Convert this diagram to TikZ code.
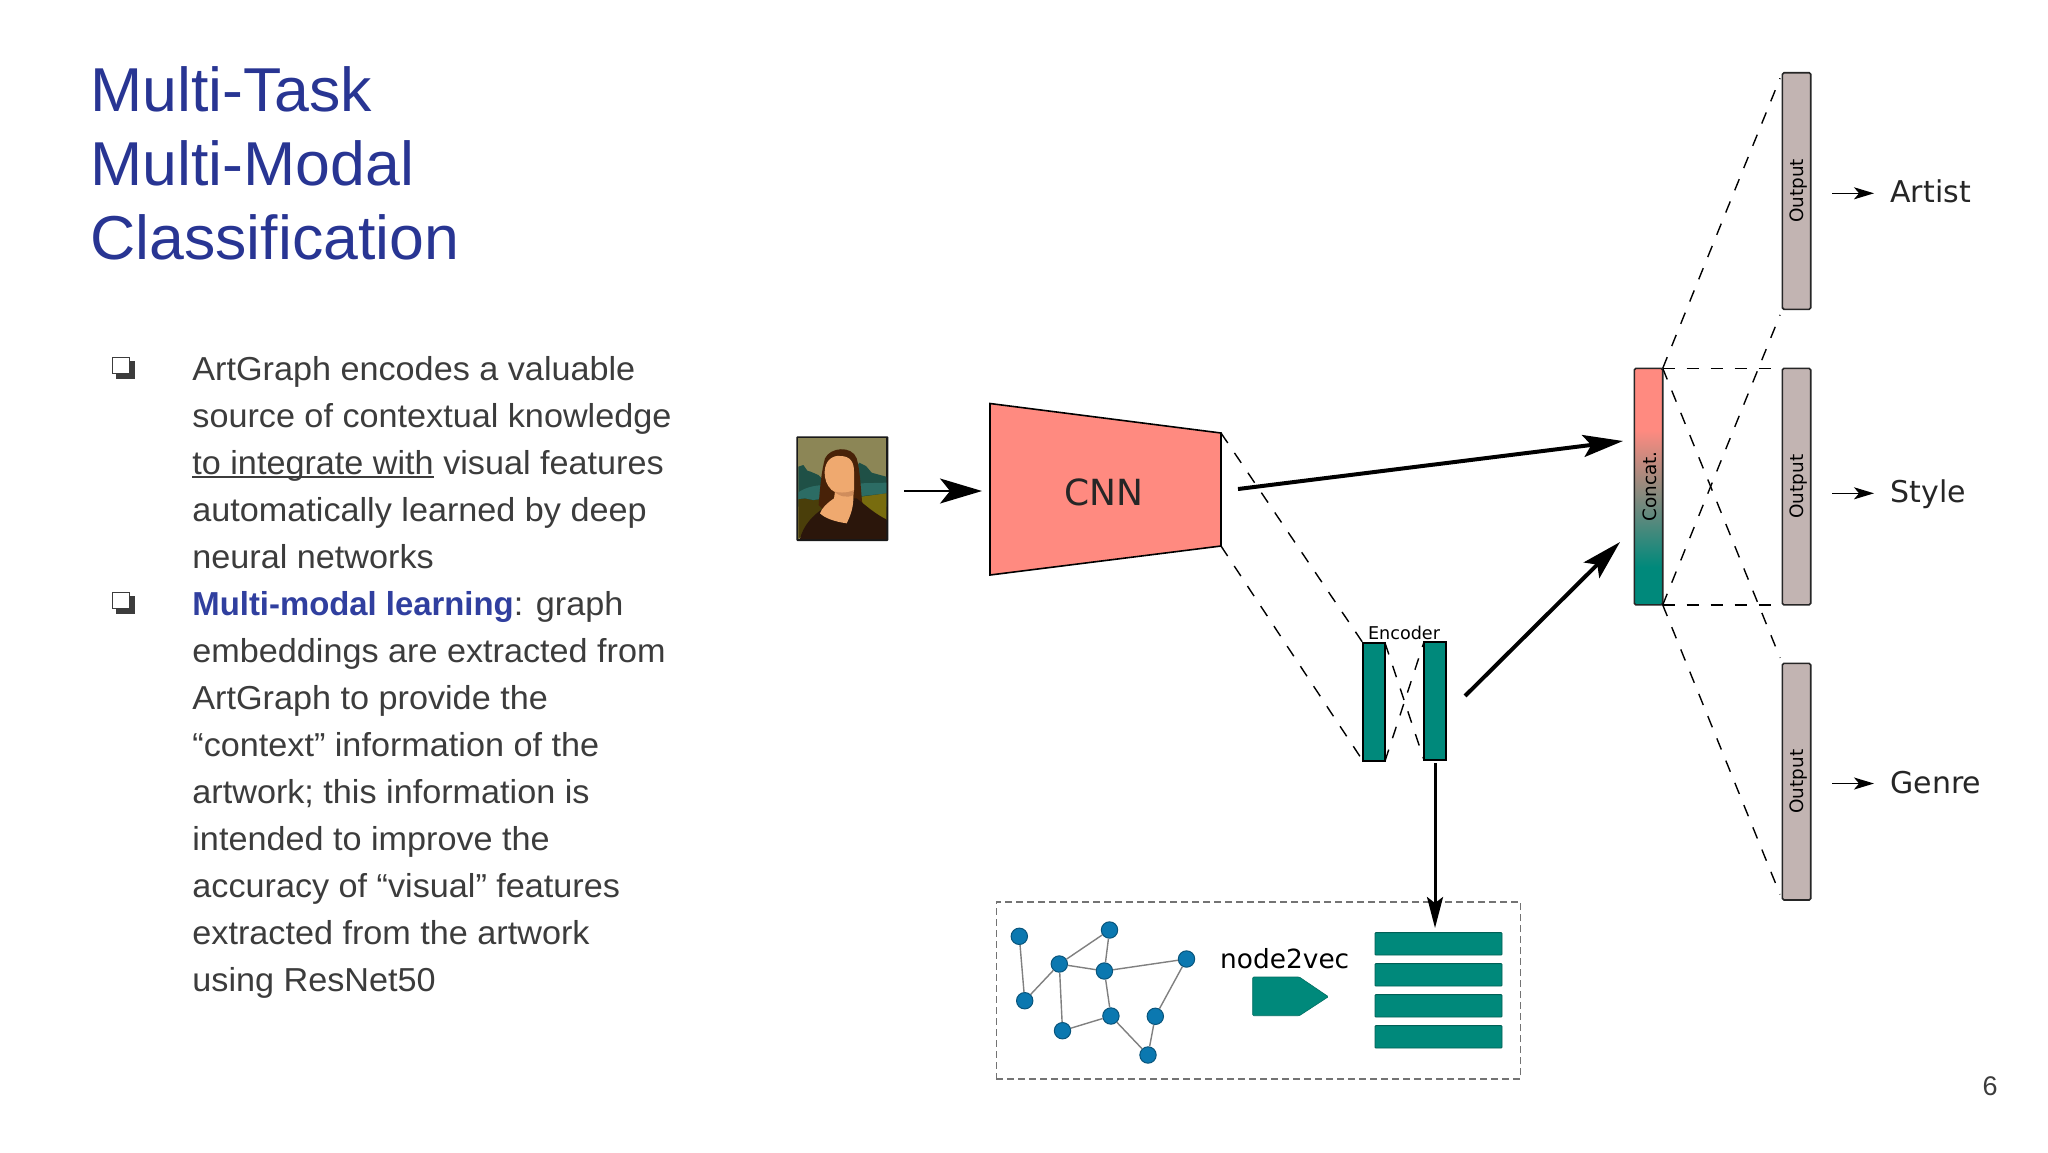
\documentclass[tikz,border=0pt]{standalone}
\usepackage{fontspec}
\usetikzlibrary{arrows.meta}
\setmainfont{Liberation Sans}
\newfontfamily\djv{DejaVu Sans}
\newfontfamily\titlef[FakeStretch=1.01]{Liberation Sans}
\newfontfamily\bodyf[FakeStretch=1.03]{Liberation Sans}
\newfontfamily\boldf[FakeStretch=0.99]{Liberation Sans}
\definecolor{titleblue}{HTML}{283593}
\definecolor{boldblue}{HTML}{303F9F}
\definecolor{bodygrey}{HTML}{3C3C3C}
\definecolor{salmon}{HTML}{FF8A80}
\definecolor{tealbar}{HTML}{00897B}
\definecolor{outgrey}{HTML}{C2B4B2}
\definecolor{dotblue}{HTML}{0B78B0}
\pgfdeclareverticalshading{concatshade}{100bp}{color(0bp)=(tealbar); color(33bp)=(tealbar); color(62bp)=(salmon); color(100bp)=(salmon)}
\newcommand\ulx[1]{\setbox0=\hbox{#1}\rlap{\rule[-2pt]{\wd0}{0.8pt}}\box0\relax}
\tikzset{
  titletext/.style={anchor=base west,inner sep=0pt,align=left,text=titleblue,font=\titlef\fontsize{31}{36.85}\selectfont},
  bodytext/.style={anchor=base west,inner sep=0pt,align=left,text=bodygrey,font=\bodyf\fontsize{16.6}{23.5}\selectfont},
  bulletshadow/.style={fill=bodygrey,minimum width=9.5pt,minimum height=9pt,inner sep=0pt,outer sep=0pt},
  bulletbox/.style={draw=bodygrey,line width=.6pt,fill=white,minimum width=8.4pt,minimum height=8pt,inner sep=0pt,outer sep=0pt},
  enc/.style={draw=black,line width=.8pt,fill=tealbar,minimum width=11pt,minimum height=59pt,inner sep=0pt,outer sep=0pt},
  outbar/.style={draw=black!85,line width=.8pt,fill=outgrey,rounded corners=.8pt,minimum width=14.2pt,minimum height=118.3pt,inner sep=0pt,outer sep=0pt,font=\djv\fontsize{9.2}{9}\selectfont},
  concatbar/.style={draw=black!85,line width=.8pt,shading=concatshade,rounded corners=.8pt,minimum width=14.2pt,minimum height=118.3pt,inner sep=0pt,outer sep=0pt,font=\djv\fontsize{9.2}{9}\selectfont},
  dashlink/.style={line width=.7pt,dash pattern=on 6pt off 6pt,black},
  smallarrow/.style={line width=.8pt,-{Stealth[length=10pt,width=6pt,inset=2.5pt]}},
  bigarrow/.style={line width=1pt,-{Stealth[length=21pt,width=12.5pt,inset=5pt]}},
  thickarrow/.style={line width=2pt,-{Stealth[length=20pt,width=11pt,inset=4pt]}},
  downarrow/.style={line width=1.5pt,-{Stealth[length=15.5pt,width=8pt,inset=3pt]}},
  dot/.style={circle,draw=dotblue!70!black,line width=.5pt,fill=dotblue,minimum size=8.2pt,inner sep=0pt},
  edge/.style={line width=.7pt,draw=black!50},
  embar/.style={draw=tealbar!70!black,line width=.4pt,fill=tealbar,rounded corners=.4pt,minimum width=63.5pt,minimum height=11.2pt,inner sep=0pt,outer sep=0pt},
  classlabel/.style={anchor=base west,inner sep=0pt,text=black!85,font=\djv\fontsize{15}{15}\selectfont},
}
\begin{document}
\begin{tikzpicture}[x=.5pt,y=-.5pt]
\useasboundingbox (0,0) rectangle (2048,1152);
\fill[white] (0,0) rectangle (2048,1152);

% title and text
\node[titletext] (title) at (90,259.3) {Multi-Task\\Multi-Modal\\Classification};
\node[bulletshadow] (bs1) at (125.5,369.5) {};
\node[bulletbox] (b1) at (121,365.5) {};
\node[bulletshadow] (bs2) at (125.5,604.5) {};
\node[bulletbox] (b2) at (121,600.5) {};
\node[bodytext] (para1) at (192,568) {ArtGraph encodes a valuable\\source of contextual knowledge\\\ulx{to integrate with} visual features\\automatically learned by deep\\neural networks};
\node[bodytext] (para2) at (192,991) {\textcolor{boldblue}{\boldf\bfseries Multi-modal learning}: graph\\embeddings are extracted from\\ArtGraph to provide the\\“context” information of the\\artwork; this information is\\intended to improve the\\accuracy of “visual” features\\extracted from the artwork\\using ResNet50};
\node[anchor=base,inner sep=0pt,text=bodygrey,font=\fontsize{13.5}{14}\selectfont] (page) at (1990,1095.5) {6};

% painting
\node[inner sep=0pt,outer sep=0pt,minimum width=45.5pt,minimum height=52pt] (img) at (842.5,489) {};
\begin{scope}[xshift=395pt,yshift=-215pt,x=.16667pt,y=-.16667pt]
  \fill[rounded corners=.5pt,black!90] (19,19) rectangle (295,333);
  \fill[fill={rgb,255:red,140;green,134;blue,86}] (25,25) rectangle (289,327);
  \fill[fill={rgb,255:red,31;green,80;blue,70}] (25,110) -- (40,105) -- (52,122) -- (62,125) -- (85,135) -- (100,150) -- (200,110) -- (208,98) -- (228,108) -- (245,128) -- (270,135) -- (289,140) -- (289,230) -- (25,230) -- cycle;
  \fill[fill={rgb,255:red,44;green,108;blue,100}] (25,187) .. controls (50,170) and (80,165) .. (110,165) -- (210,160) -- (289,158) -- (289,190) -- (230,196) -- (205,200) -- (100,205) -- (70,210) -- (45,205) -- (25,207) -- cycle;
  \fill[fill={rgb,255:red,120;green,108;blue,14}] (215,200) -- (289,190) -- (289,270) -- (200,270) -- cycle;
  \fill[fill={rgb,255:red,74;green,62;blue,10}] (25,208) -- (45,206) -- (70,211) -- (110,206) -- (110,250) -- (25,327) -- cycle;
  \fill[fill={rgb,255:red,72;green,34;blue,8}] (86,225) .. controls (90,170) and (95,120) .. (105,85) .. controls (120,52) and (185,45) .. (200,85) .. controls (210,120) and (212,170) .. (216,215) -- (240,260) -- (120,260) -- cycle;
  \fill[fill={rgb,255:red,43;green,22;blue,11}] (30,327) .. controls (40,285) and (70,255) .. (100,235) -- (130,205) -- (200,205) .. controls (225,225) and (260,255) .. (289,268) -- (289,327) -- cycle;
  \fill[fill={rgb,255:red,239;green,169;blue,111}] (132,205) .. controls (110,220) and (95,235) .. (90,250) .. controls (105,265) and (135,275) .. (170,280) .. controls (182,255) and (192,230) .. (190,190) -- (135,185) -- cycle;
  \fill[fill={rgb,255:red,208;green,141;blue,92}] (130,183) -- (192,180) -- (190,195) .. controls (170,205) and (150,200) .. (130,183) -- cycle;
  \fill[fill={rgb,255:red,239;green,169;blue,111}] (104,125) .. controls (105,90) and (130,75) .. (150,78) .. controls (180,78) and (192,95) .. (192,125) -- (192,180) .. controls (170,190) and (140,190) .. (125,180) .. controls (110,165) and (104,150) .. (104,125) -- cycle;
\end{scope}

% CNN
\coordinate (c1) at (990,403.5);
\coordinate (c2) at (1221,433);
\coordinate (c3) at (1221,546);
\coordinate (c4) at (990,575);
\draw[line width=.8pt,fill=salmon,line join=miter] (c1) -- (c2) -- (c3) -- (c4) -- cycle;
\node[inner sep=0pt,text=black!85,font=\djv\fontsize{18}{19}\selectfont] (cnn) at (1104,492) {CNN};

% encoder
\node[enc] (enc1) at (1374,702) {};
\node[enc] (enc2) at (1435,701) {};
\node[inner sep=0pt,font=\djv\fontsize{8.8}{9}\selectfont] (enclabel) at (1404,632.5) {Encoder};

% concat and outputs
\node[concatbar] (concat) at (1648.5,486.6) {\hspace*{1pt}\rotatebox{90}{Concat.}};
\node[outbar] (o1) at (1796.5,191) {\hspace*{2pt}\rotatebox{90}{Output}};
\node[outbar] (o2) at (1796.5,486.6) {\hspace*{2pt}\rotatebox{90}{Output}};
\node[outbar] (o3) at (1796.5,781.7) {\hspace*{2pt}\rotatebox{90}{Output}};
\node[classlabel] (artist) at (1890,202.7) {Artist};
\node[classlabel] (style) at (1890,502.7) {Style};
\node[classlabel] (genre) at (1890,793) {Genre};

% arrows
\coordinate (imgout) at (904,491);
\coordinate (cnnin) at (982,491);
\draw[bigarrow] (imgout) -- (cnnin);
\coordinate (cnnout) at (1238,489);
\coordinate (concatin1) at (1623,441);
\draw[thickarrow] (cnnout) -- (concatin1);
\coordinate (encout) at (1465,696);
\coordinate (concatin2) at (1620,542);
\draw[thickarrow] (encout) -- (concatin2);

\draw[dashlink] (c2) -- (enc1.north west);
\draw[dashlink] (c3) -- (enc1.south west);
\draw[dashlink] (enc1.north east) -- (enc2.south west);
\draw[dashlink] (enc1.south east) -- (enc2.north west);
\draw[dashlink,shorten >=3pt] (concat.north east) -- (o1.north west);
\draw[dashlink,shorten >=3pt] (concat.south east) -- (o1.south west);
\draw[dashlink,shorten >=3pt] (concat.north east) -- (o2.north west);
\draw[dashlink,shorten >=3pt] (concat.south east) -- (o2.south west);
\draw[dashlink,shorten >=3pt] (concat.north east) -- (o3.north west);
\draw[dashlink,shorten >=3pt] (concat.south east) -- (o3.south west);

\coordinate (a1s) at (1832,193.3); \coordinate (a1e) at (1874,193.3);
\coordinate (a2s) at (1832,493.3); \coordinate (a2e) at (1874,493.3);
\coordinate (a3s) at (1832,783.5); \coordinate (a3e) at (1874,783.5);
\draw[smallarrow] (a1s) -- (a1e);
\draw[smallarrow] (a2s) -- (a2e);
\draw[smallarrow] (a3s) -- (a3e);

% graph box
\node[draw=black!55,line width=.8pt,dash pattern=on 3.5pt off 2pt,minimum width=262.1pt,minimum height=88.6pt,inner sep=0pt,outer sep=0pt] (gbox) at (1258.5,990.3) {};
\node[dot] (n1) at (1019.3,936.3) {};
\node[dot] (n2) at (1109.5,930) {};
\node[dot] (n3) at (1059.3,964) {};
\node[dot] (n4) at (1104.4,971) {};
\node[dot] (n5) at (1186.5,959) {};
\node[dot] (n6) at (1024.7,1000.7) {};
\node[dot] (n7) at (1110.9,1016) {};
\node[dot] (n8) at (1155.3,1016.3) {};
\node[dot] (n9) at (1062.5,1030.7) {};
\node[dot] (n10) at (1148,1055) {};
\foreach \p/\q in {n1/n6,n3/n2,n3/n4,n2/n4,n4/n5,n3/n6,n3/n9,n4/n7,n9/n7,n7/n10,n8/n10,n5/n8}
  \draw[edge] (\p) -- (\q);
\node[inner sep=0pt,font=\djv\fontsize{13.2}{14}\selectfont] (n2v) at (1284.7,958.5) {node2vec};
\fill[tealbar,draw=tealbar!80!black,line width=.3pt,rounded corners=.5pt] (1252.7,977) -- (1299.3,977) -- (1328.4,996.7) -- (1299.3,1015.7) -- (1252.7,1015.7) -- cycle;
\node[embar] (e1) at (1438.5,943.8) {};
\node[embar] (e2) at (1438.5,974.8) {};
\node[embar] (e3) at (1438.5,1005.8) {};
\node[embar] (e4) at (1438.5,1036.8) {};
\coordinate (downtip) at (1435,928);
\draw[downarrow,shorten <=1.5pt] (enc2.south) -- (downtip);
\end{tikzpicture}
\end{document}
